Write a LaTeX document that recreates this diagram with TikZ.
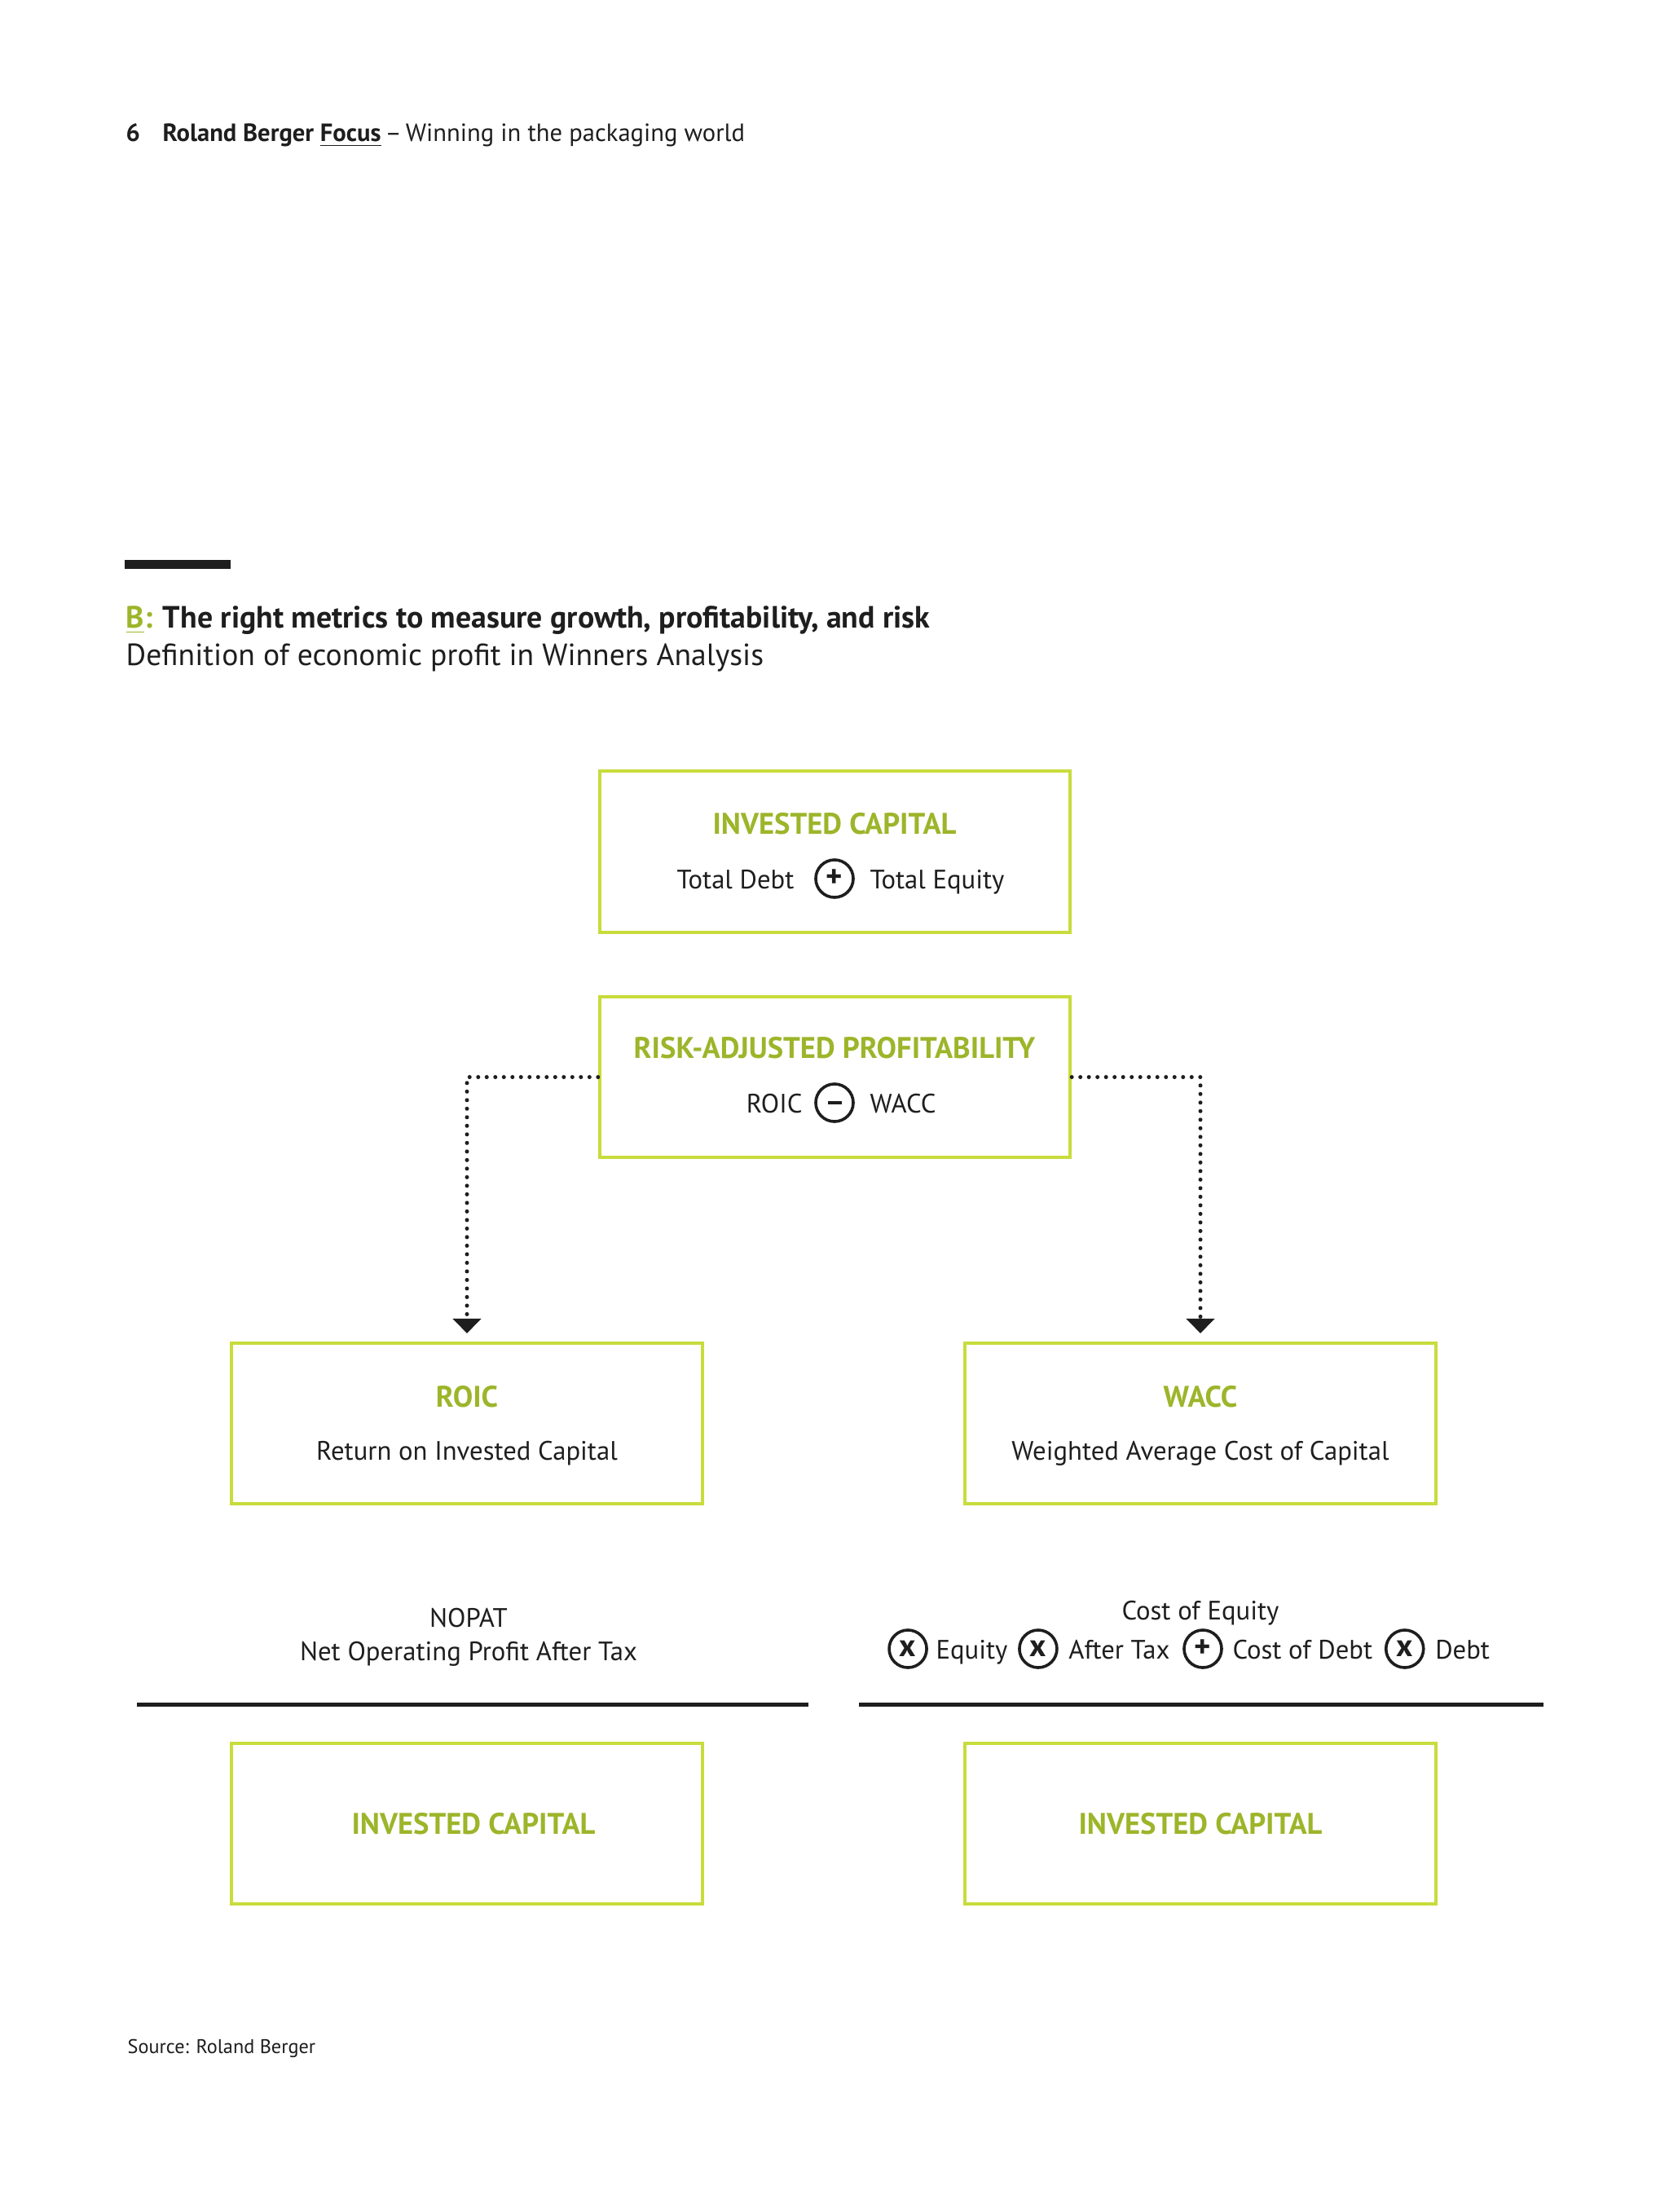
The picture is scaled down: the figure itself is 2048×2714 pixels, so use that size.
\documentclass[tikz,border=0pt]{standalone}
\usepackage{fontspec}
\setmainfont{PT Sans}
\usetikzlibrary{arrows.meta,positioning}

\definecolor{rbline}{HTML}{C8DC3C}
\definecolor{rbhead}{HTML}{9CB52A}
\definecolor{ink}{HTML}{1E1E1E}

\begin{document}
\begin{tikzpicture}[x=0.01cm,y=-0.01cm,>={Triangle[width=0.34cm,length=0.18cm]},
                    text=ink,font=\fontsize{9.3}{11}\selectfont,
                    box/.style={draw=rbline,line width=0.04cm,minimum width=5.77cm,
                                minimum height=1.97cm,inner sep=0pt},
                    head/.style={text=rbhead,font=\fontsize{10.4}{12}\selectfont\bfseries,
                                 anchor=base,inner sep=0pt},
                    txt/.style={inner sep=0pt,text height=1.4ex,text depth=0pt},
                    op/.style={circle,draw=ink,line width=0.036cm,minimum size=0.46cm,
                               inner sep=0pt,font=\fontsize{11}{11}\selectfont\bfseries},
                    link/.style={->,draw=ink,line width=0.05cm,line cap=round,
                                 dash pattern=on 0pt off 0.105cm,shorten >=0.1cm},
                    rule/.style={draw=ink,line width=0.05cm}]

  \useasboundingbox[fill=white] (0,0) rectangle (2048,2714);

  % page header
  \node[anchor=base west,inner sep=0pt,font=\fontsize{8.7}{10}\selectfont\bfseries]
       (pagenum) at (154,173) {6};
  \node[anchor=base west,inner sep=0pt,font=\fontsize{8.7}{10}\selectfont]
       (pagehead) at (199,173) {\textbf{Roland Berger \underline{Focus}}\,--\,Winning in the packaging world};

  % chart title
  \fill[ink] (153,687) rectangle (283,698);
  \node[anchor=base west,inner sep=0pt,font=\fontsize{10.75}{13}\selectfont\bfseries]
       (title) at (154,770) {{\color{rbhead}\underline{B}:} The right metrics to measure growth, profitability, and risk};
  \node[anchor=base west,inner sep=0pt,font=\fontsize{10.7}{13}\selectfont]
       (subtitle) at (154,816) {Definition of economic profit in Winners Analysis};

  % boxes
  \node[box] (capital) at (1024.5,1045)   {};
  \node[box] (risk)    at (1024.5,1321.5) {};
  \node[box] (roic)    at (573,1746.5)    {};
  \node[box] (wacc)    at (1473,1746.5)   {};
  \node[box] (roicic)  at (573,2237.5)    {};
  \node[box] (waccic)  at (1473,2237.5)   {};

  % invested capital
  \node[head] (capitalhead) at (1024,1023) {INVESTED CAPITAL};
  \node[op]   (plus)   at (1024,1078) {+};
  \node[txt]  (tdebt)  [left=0.24cm of plus]  {Total Debt};
  \node[txt]  (tequity) [right=0.18cm of plus] {Total Equity};

  % risk-adjusted profitability
  \node[head] (riskhead) at (1024,1298) {RISK-ADJUSTED PROFITABILITY};
  \node[op]   (minus) at (1024,1353) {\rule{0.17cm}{0.045cm}};
  \node[txt]  (roicterm) [left=0.14cm of minus]  {ROIC};
  \node[txt]  (waccterm) [right=0.18cm of minus] {WACC};

  % roic and wacc
  \node[head] (roichead) at (573,1726) {ROIC};
  \node[anchor=base,inner sep=0pt] (roiclong) at (573,1791) {Return on Invested Capital};
  \node[head] (wacchead) at (1473,1726) {WACC};
  \node[anchor=base,inner sep=0pt] (wacclong) at (1473,1791) {Weighted Average Cost of Capital};

  \draw[link] (risk.west) -| (roic.north);
  \draw[link] (risk.east) -| (wacc.north);

  % numerators
  \node[anchor=base,inner sep=0pt] (nopat)     at (575,1996) {NOPAT};
  \node[anchor=base,inner sep=0pt] (nopatlong) at (575,2037) {Net Operating Profit After Tax};

  \node[anchor=base,inner sep=0pt] (coe) at (1473,1987) {Cost of Equity};
  \node[op]  (plustwo)  at (1476,2023) {+};
  \node[txt] (aftertax) [left=0.15cm of plustwo]  {After Tax};
  \node[op]  (timestwo) [left=0.12cm of aftertax] {x};
  \node[txt] (equity)   [left=0.12cm of timestwo] {Equity};
  \node[op]  (timesone) [left=0.09cm of equity]   {x};
  \node[txt] (cod)      [right=0.11cm of plustwo] {Cost of Debt};
  \node[op]  (timesthree) [right=0.14cm of cod]   {x};
  \node[txt] (debt)     [right=0.12cm of timesthree] {Debt};

  % fraction bars
  \draw[rule] (168,2091) -- (992,2091);
  \draw[rule] (1054,2091) -- (1894,2091);

  % denominators
  \node[head,anchor=center] (roicichead) at ([xshift=0.08cm]roicic) {INVESTED CAPITAL};
  \node[head,anchor=center] (waccichead) at (waccic) {INVESTED CAPITAL};

  % source
  \node[anchor=base west,inner sep=0pt,font=\fontsize{6.9}{8}\selectfont]
       (source) at (156,2519) {Source: Roland Berger};
\end{tikzpicture}
\end{document}
